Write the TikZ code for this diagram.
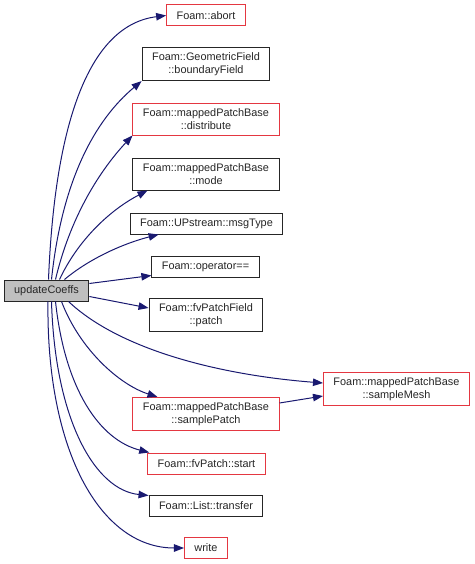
\documentclass[tikz,border=0pt]{standalone}
\usepackage{fontspec}
\setmainfont{Liberation Sans}
\usetikzlibrary{arrows.meta, positioning}
\definecolor{edgeblue}{RGB}{25,25,112}
\definecolor{linkred}{RGB}{228,55,65}
\definecolor{selfgray}{RGB}{191,191,191}

\begin{document}
\begin{tikzpicture}[
  x=1pt, y=-1pt,
  every node/.style = {font=\fontsize{10.9}{13}\selectfont, text=black!85},
  fn/.style = {draw=black!85, fill=white, align=center, inner xsep=10pt, inner ysep=5pt, minimum height=21pt, line width=1pt},
  undoc/.style = {fn, draw=linkred},
  self/.style = {fn, fill=selfgray},
  call/.style = {draw=edgeblue, line width=1pt, -{Triangle[length=10pt,width=7.5pt]}}
]
  \useasboundingbox (0,0) rectangle (474,564);

  \node[self] (upd) at (46.5,290.5) {updateCoeffs};

  \node[undoc] (abort) at (206,15.5) {Foam::abort};
  \node[fn] (bfield) at (206,64) {Foam::GeometricField\\::boundaryField};
  \node[undoc] (distrib) at (206,119.5) {Foam::mappedPatchBase\\::distribute};
  \node[fn] (mode) at (206,174.5) {Foam::mappedPatchBase\\::mode};
  \node[fn] (msgtype) at (206.5,223.5) {Foam::UPstream::msgType};
  \node[fn] (opeq) at (205.5,266.5) {Foam::operator==};
  \node[fn] (patch) at (206,315) {Foam::fvPatchField\\::patch};
  \node[undoc] (spatch) at (206,414) {Foam::mappedPatchBase\\::samplePatch};
  \node[undoc] (start) at (206.5,463.5) {Foam::fvPatch::start};
  \node[fn] (transfer) at (206,505.5) {Foam::List::transfer};
  \node[undoc] (write) at (206,548) {write};
  \node[undoc] (smesh) at (396.5,389) {Foam::mappedPatchBase\\::sampleMesh};

  % calls going up
  \draw[call] ([xshift=2pt]upd.north) .. controls (55,120) and (90,25) .. (abort.west);
  \draw[call] ([xshift=5pt]upd.north) .. controls (62,180) and (95,120) .. (bfield.south west);
  \draw[call] ([xshift=9pt]upd.north) .. controls (72,210) and (105,165) .. (distrib.south west);
  \draw[call] ([xshift=13pt]upd.north) .. controls (78,240) and (110,210) .. ([xshift=15pt]mode.south west);
  \draw[call] ([xshift=18pt]upd.north) .. controls (90,258) and (125,243) .. ([xshift=29pt]msgtype.south west);

  % calls to the right
  \draw[call] ([yshift=7pt]upd.east) -- ([yshift=2pt]opeq.south west);
  \draw[call] ([yshift=-6pt]upd.east) -- ([yshift=7pt]patch.west);

  % calls going down
  \draw[call] ([xshift=22pt]upd.south) .. controls (120,350) and (220,375) .. ([yshift=6pt]smesh.west);
  \draw[call] ([xshift=15pt]upd.south) .. controls (80,350) and (120,385) .. ([xshift=25pt]spatch.north west);
  \draw[call] ([xshift=9pt]upd.south) .. controls (65,390) and (100,440) .. ([xshift=2pt]start.north west);
  \draw[call] ([xshift=5pt]upd.south) .. controls (55,420) and (95,490) .. ([yshift=-1pt]transfer.north west);
  \draw[call] ([xshift=1.5pt]upd.south) .. controls (46,450) and (100,548) .. (write.west);

  \draw[call] ([yshift=11pt]spatch.east) -- ([yshift=-7pt]smesh.west);
\end{tikzpicture}
\end{document}
